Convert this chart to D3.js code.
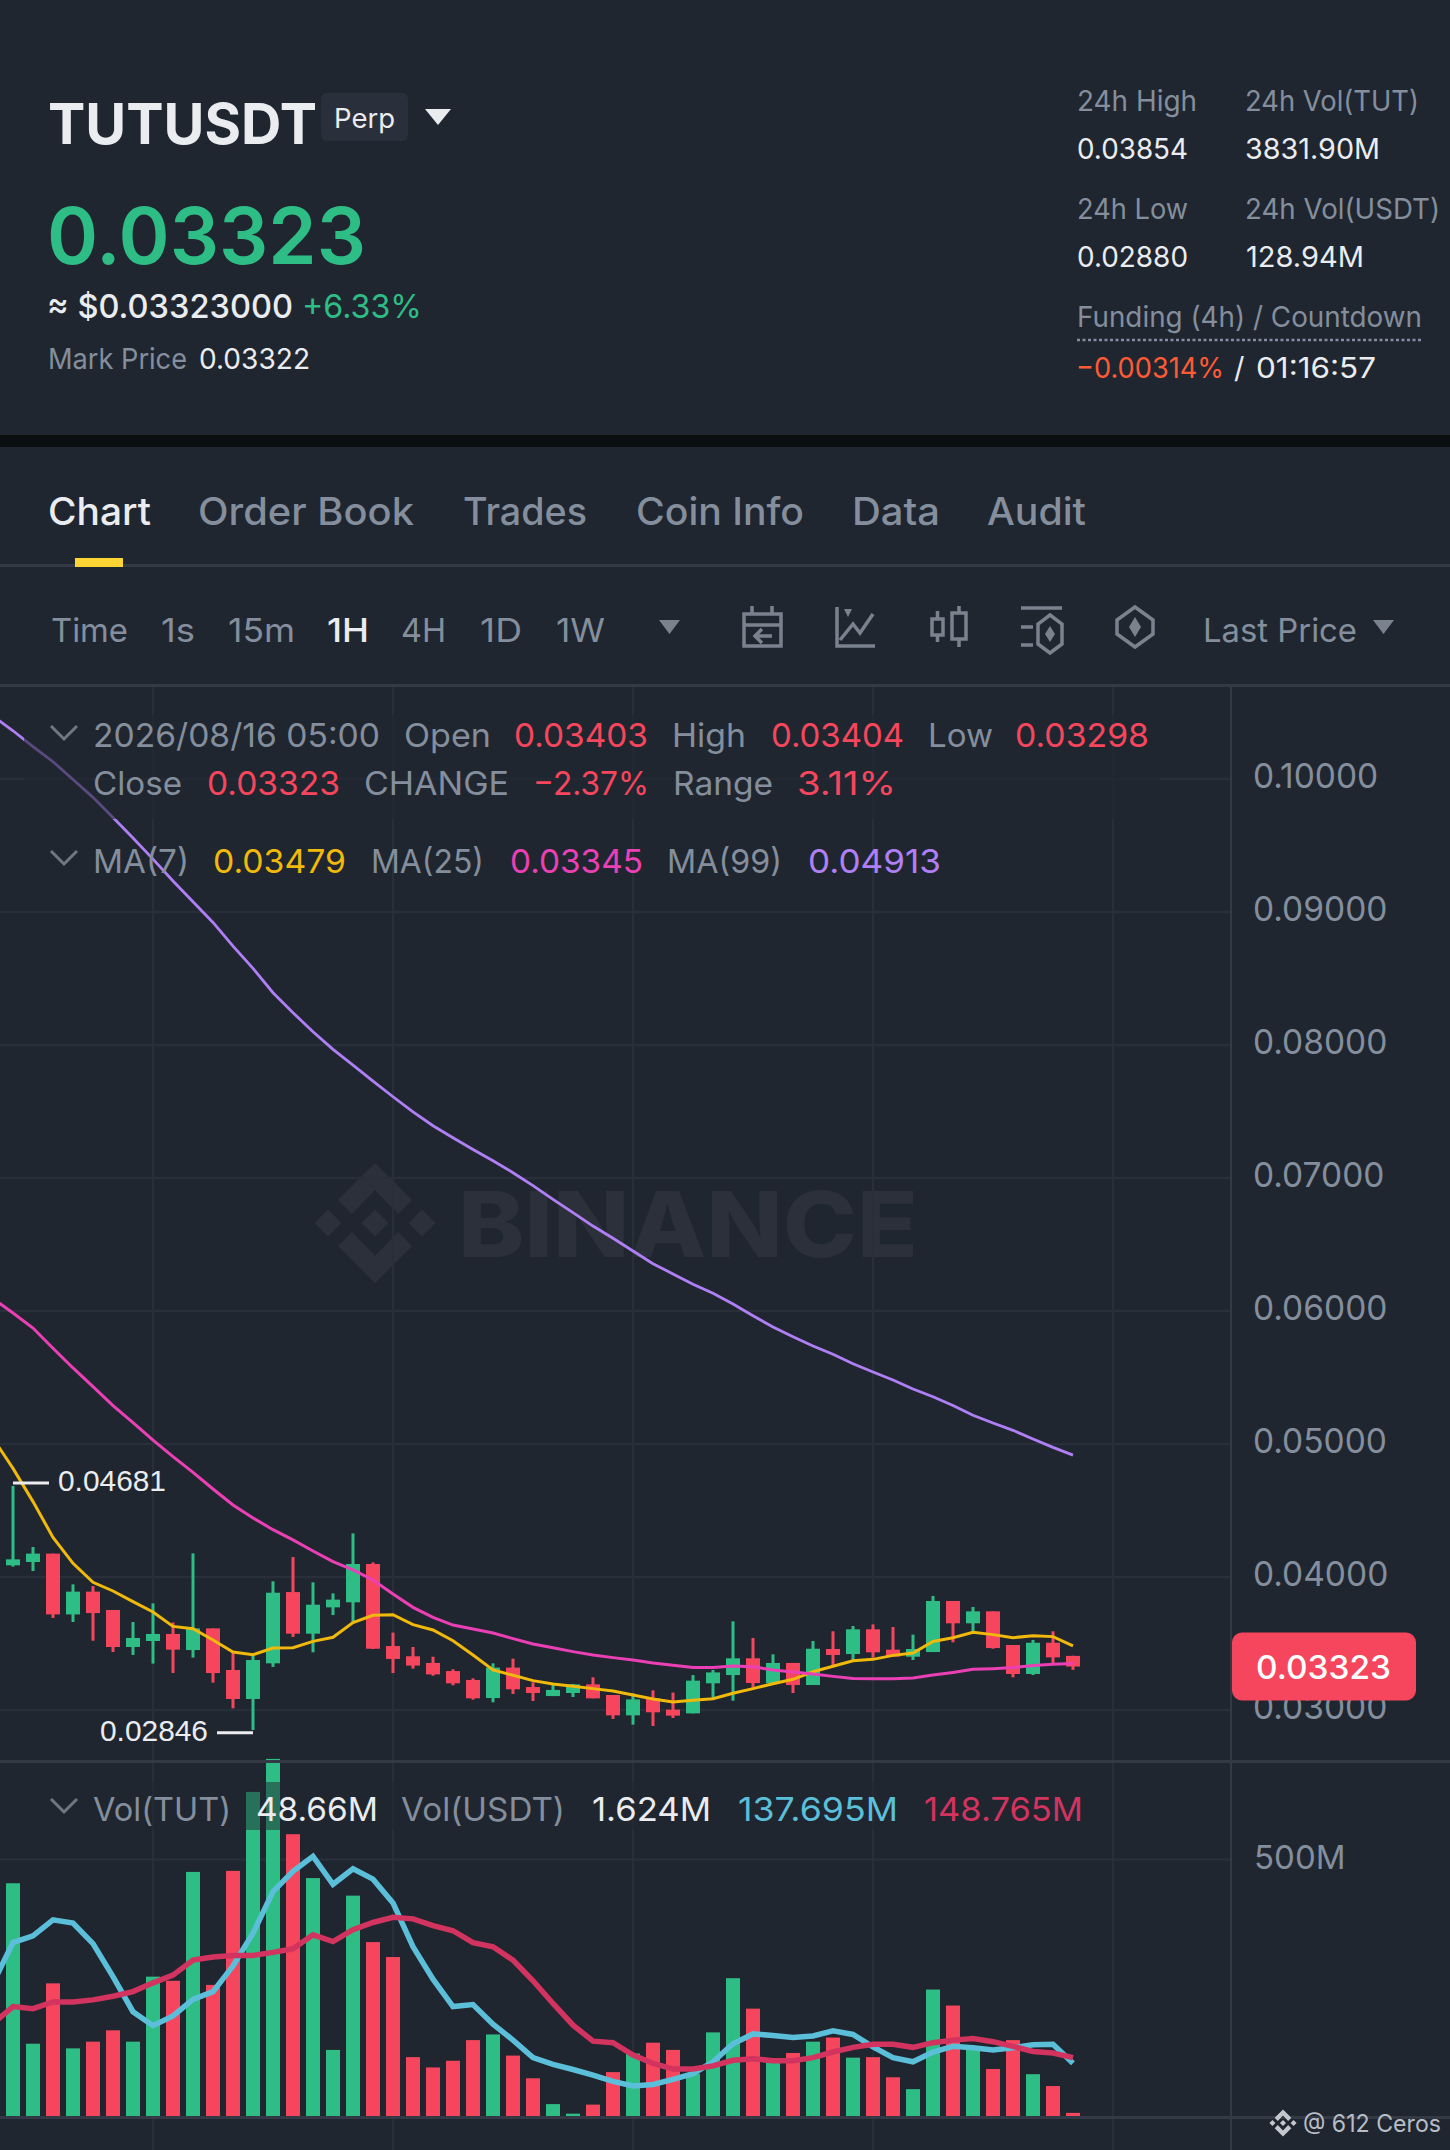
<!DOCTYPE html>
<html>
<head>
<meta charset="utf-8">
<script src="https://cdn.jsdelivr.net/npm/d3@7"></script>
<style>
  html, body { margin: 0; background: #1f2630; }
  svg { display: block; }
  text { font-family: Inter, "Noto Sans", sans-serif; }
</style>
</head>
<body>
<svg width="1450" height="2150"></svg>
<script>
// candles
const opens = [.04084,.04109,.04172,.03715,.03886,.03748,.0347,.03515,.03568,.03447,.0361,.03297,.03079,.03347,.03883,.0357,.03768,.03806,.04094,.03477,.034,.0335,.03289,.03222,.03086,.03315,.03169,.03101,.03124,.03189,.03109,.02956,.03084,.02999,.02971,.03197,.03259,.03385,.03197,.0335,.03184,.03455,.03417,.03603,.0345,.03397,.03432,.03816,.03648,.03738,.03485,.03267,.03502,.03403];
const highs = [.04681,.04222,.04172,.03941,.03928,.03748,.03658,.03798,.03655,.04174,.0361,.03435,.0341,.03964,.04146,.03956,.03873,.04324,.04106,.03578,.0347,.03397,.03302,.03234,.03347,.03382,.03204,.03184,.03192,.03242,.03109,.03122,.03144,.03127,.03259,.03297,.03663,.03538,.03415,.0335,.03515,.03588,.03628,.0364,.0362,.03563,.03854,.03816,.03771,.03738,.03485,.03523,.03588,.03404];
const lows = [.04074,.04041,.03688,.03658,.03517,.03432,.0341,.03345,.03274,.0339,.03202,.03009,.02846,.0332,.03545,.0343,.0371,.03648,.03455,.03274,.03307,.03254,.03182,.03074,.03054,.03117,.03064,.03101,.03094,.03084,.02929,.02886,.02876,.02936,.02971,.03084,.03066,.03164,.03197,.03124,.03184,.0333,.03372,.0339,.03397,.03372,.03432,.03505,.03585,.03457,.03242,.03259,.03347,.03298];
const closes = [.04129,.04172,.03715,.03886,.03725,.0347,.03538,.03568,.0345,.0361,.03274,.03079,.03372,.03878,.0357,.03788,.03826,.04094,.03457,.0338,.0333,.03264,.03197,.03084,.03315,.03152,.03124,.03147,.03189,.03084,.02956,.03076,.02979,.02954,.03217,.03279,.03385,.03199,.0335,.03184,.03457,.0341,.03603,.0343,.03397,.03455,.03816,.03648,.03738,.03462,.03267,.03502,.03392,.03323];
const volumes = [453,142,259,133,146,168,146,272,264,475,256,477,630,694,548,463,130,429,339,310,116,96,109,149,160,119,75,25,6.5,24,87,123,144,130,84,164,269,210,107,124,146,154,115,116,77,54,247,216,133,93,149,83,60,8];

// moving averages start one candle before the first full candle
const ma7 = [.05039,.04813,.04563,.04294,.04099,.03956,.03891,.03811,.03733,.03625,.03608,.03523,.03432,.03412,.03462,.03465,.03512,.03543,.03653,.03708,.03713,.03638,.03598,.03517,.0341,.03297,.03257,.03217,.03192,.03174,.03157,.03139,.03109,.03079,.03056,.03069,.03081,.03122,.03157,.03194,.03227,.03284,.03325,.03367,.03377,.03407,.03425,.03512,.0354,.0358,.03563,.0354,.03555,.03548,.03479];
const ma25 = [.06091,.05981,.05868,.05716,.05568,.05427,.05285,.05157,.05026,.04901,.04783,.04658,.04538,.0444,.04352,.04275,.04192,.04112,.04049,.03974,.03868,.03768,.03693,.03635,.03605,.03575,.03533,.03492,.03465,.03435,.0341,.0339,.03372,.0335,.03332,.03315,.03315,.03327,.03322,.03297,.03282,.03267,.03249,.03234,.03232,.03232,.03237,.03259,.03279,.03302,.03307,.03315,.0333,.0334,.03345];
const ma99 = [.10469,.10359,.10239,.10126,.09993,.09858,.09707,.09552,.09394,.09229,.09073,.08918,.0874,.08572,.08389,.08239,.08096,.07963,.07845,.07725,.07607,.07494,.07389,.07299,.07211,.07126,.07036,.06939,.06836,.06736,.06635,.06543,.06447,.06352,.06275,.06197,.06129,.06049,.05961,.05876,.05803,.05733,.05671,.056,.05538,.05478,.0541,.05352,.05285,.05212,.05154,.05099,.05034,.04971,.04913];
const volMaFast = [259,338,351,382,376,336,272,204,177,196,228,243,293,356,437,476,505,451,481,461,415,330,267,214,218,180,149,115,102,92,81,69,60,63,73,84,107,142,161,158,154,157,167,160,136,115,107,126,137,134,130,134,140,141,104];
const volMaSlow = [181,214,210,223,223,227,234,243,260,275,304,310,313,313,319,326,353,340,363,377,387,384,371,361,338,330,304,264,220,178,147,144,120,104,93,93,99,110,113,109,109,115,126,135,141,141,135,144,149,152,146,137,127,124,115];

const priceTicks = [.03,.04,.05,.06,.07,.08,.09,.10];
const volTicks = [500];
const gridCandles = [7,19,31,43,55];

const tabs = ["Chart","Order Book","Trades","Coin Info","Data","Audit"];
const tabX = [48,198,463,636,852,987];
const tabW = [103,216,124,168,88,99];
const times = ["Time","1s","15m","1H","4H","1D","1W"];
const timeX = [51,161,228,327,401,480,556];
const timeW = [77,34,67,42,45,42,49];

const BG = "#1f2630", GREEN = "#2ebd85", RED = "#f6465d", GRAY = "#848e9c", WHITE = "#eaecef";
const YELLOW = "#f0b90b", PINK = "#eb40b5", PURPLE = "#b17ff5", CYAN = "#5bbfd9", CRIMSON = "#d2335f";
const GRID = "#292f39", SEP = "#343a45", ICON = "#7a828e";
const CHART_RIGHT = 1230;

const svg = d3.select("svg");

// width is the length the text takes in the reference, so rows keep their spacing
function txt(x, y, s, size, fill, width, weight, family) {
  const t = svg.append("text").attr("x", x).attr("y", y).attr("font-size", size).attr("fill", fill).text(s);
  if (width) t.attr("textLength", width).attr("lengthAdjust", "spacingAndGlyphs");
  if (weight) t.attr("font-weight", weight);
  if (family) t.style("font-family", family);
  return t;
}

function chevron(y) {
  svg.append("path")
    .attr("d", `M51 ${y}L64 ${y + 13}L77 ${y}`)
    .attr("fill", "none").attr("stroke", "#6f7783").attr("stroke-width", 3);
}

function logo(cx, cy, k, fill) {
  const paths = [
    "M0-60L37-23L23-9L0-33L-23-9L-37-23Z",
    "M0 60L37 23L23 9L0 33L-23 9L-37 23Z",
    "M0-13.5L13.5 0L0 13.5L-13.5 0Z",
    "M-47-13.5L-33.5 0L-47 13.5L-60.5 0Z",
    "M47-13.5L60.5 0L47 13.5L33.5 0Z"
  ];
  svg.append("path").attr("d", paths.join(""))
    .attr("transform", `translate(${cx},${cy}) scale(${k})`).attr("fill", fill);
}

// scales
const x = d3.scaleLinear().domain([-1, 53]).range([-7, 1073]);
const y = d3.scaleLinear().domain([.03, .10]).range([1709.5, 778.5]);
const yVol = d3.scaleLinear().domain([0, 500]).range([2117, 1859]);
const up = i => closes[i] >= opens[i];

// header and page background
svg.append("rect").attr("width", 1450).attr("height", 2150).attr("fill", BG);
svg.append("rect").attr("y", 435).attr("width", 1450).attr("height", 12).attr("fill", "#0b0e11");

txt(48, 144, "TUTUSDT", 56, WHITE, 269, 700);
svg.append("rect").attr("x", 321).attr("y", 93).attr("width", 87).attr("height", 48).attr("rx", 6).attr("fill", "#2a303b");
txt(334, 128, "Perp", 27, WHITE, 61);
svg.append("path").attr("d", "M425 109H451L438 125Z").attr("fill", WHITE);
txt(47, 264, "0.03323", 79, GREEN, 319, 600);
txt(47, 318, "≈ $0.03323000", 33, WHITE, 246, 500);
txt(302, 318, "+6.33%", 33, GREEN, 120);
txt(48, 369, "Mark Price", 29, GRAY, 139);
txt(199, 369, "0.03322", 29, WHITE, 111);

[[1077, 111, "24h High", GRAY, 120], [1077, 159, "0.03854", WHITE, 111], [1245, 111, "24h Vol(TUT)", GRAY, 174], [1245, 159, "3831.90M", WHITE, 135],
 [1077, 219, "24h Low", GRAY, 111], [1077, 267, "0.02880", WHITE, 111], [1245, 219, "24h Vol(USDT)", GRAY, 195], [1246, 267, "128.94M", WHITE, 118],
 [1077, 327, "Funding (4h) / Countdown", GRAY, 345], [1076, 378, "−0.00314%", "#ff5a36", 148], [1234, 378, "/", WHITE], [1256, 378, "01:16:57", WHITE, 120]]
  .forEach(d => txt(d[0], d[1], d[2], 29, d[3], d[4]));
svg.append("line").attr("x1", 1077).attr("x2", 1422).attr("y1", 340).attr("y2", 340)
  .attr("stroke", GRAY).attr("stroke-width", 2.5).attr("stroke-dasharray", "3 2.5");

// tabs
tabs.forEach((s, i) => txt(tabX[i], 525, s, 38, i === 0 ? WHITE : GRAY, tabW[i], 500));
svg.append("rect").attr("y", 564).attr("width", 1450).attr("height", 3).attr("fill", SEP);
svg.append("rect").attr("x", 75).attr("y", 558).attr("width", 48).attr("height", 9).attr("fill", "#fcd535");

// interval row
times.forEach((s, i) => txt(timeX[i], 642, s, 33, s === "1H" ? WHITE : GRAY, timeW[i], s === "1H" ? 500 : 400));
txt(1203, 642, "Last Price", 33, GRAY, 154);
svg.append("path").attr("d", "M659 620H680L669.5 634ZM1373 620H1394L1383.5 634Z").attr("fill", ICON);
svg.append("rect").attr("y", 684).attr("width", 1450).attr("height", 3).attr("fill", SEP);

const icons = svg.append("g").attr("fill", "none").attr("stroke", ICON).attr("stroke-width", 3.5);
icons.append("path").attr("d", "M744 614H781V646H744ZM744 625H781M752 606V614M772 606V614M772 636H755M762 629L755 636L762 643");
icons.append("path").attr("d", "M837 607V646H875M840 640L853 624L860 633L873 614");
icons.append("path").attr("d", "M932 619H943V635H932ZM937.5 611V619M937.5 635V642M952 613H966V639H952ZM959 606V613M959 639V647");
icons.append("path").attr("d", "M1021 608H1062M1021 627H1033M1021 645H1033M1050 615L1062 624V644L1050 653L1038 644V624Z");
icons.append("path").attr("d", "M1135 607L1153 620V634L1135 647L1117 634V620Z");
svg.append("path").attr("d", "M844 609H852L848 617ZM1050 626L1055 634L1050 642L1045 634ZM1135 617L1141 627L1135 637L1129 627Z").attr("fill", ICON);

// watermark
logo(375, 1223, 1, "#2c303a");
txt(458, 1257, "BINANCE", 91, "#2c303a", 460, 800);

// grid, drawn with the axes' own tick lines
svg.append("g").attr("transform", `translate(${CHART_RIGHT},0)`)
  .call(d3.axisLeft(y).tickValues(priceTicks).tickSize(CHART_RIGHT).tickFormat(""))
  .call(g => g.select(".domain").remove())
  .selectAll("line").attr("stroke", GRID).attr("stroke-width", 2.5);
svg.append("g").attr("transform", `translate(${CHART_RIGHT},0)`)
  .call(d3.axisLeft(yVol).tickValues(volTicks).tickSize(CHART_RIGHT).tickFormat(""))
  .call(g => g.select(".domain").remove())
  .selectAll("line").attr("stroke", GRID).attr("stroke-width", 2.5);
svg.selectAll(".vgrid").data(gridCandles).enter().append("line")
  .attr("x1", d => x(d)).attr("x2", d => x(d)).attr("y1", 687).attr("y2", 2150)
  .attr("stroke", GRID).attr("stroke-width", 2);

// volume bars and their averages
svg.selectAll(".vol").data(volumes).enter().append("rect")
  .attr("x", (d, i) => x(i) - 7).attr("width", 14)
  .attr("y", d => yVol(d)).attr("height", d => yVol(0) - yVol(d))
  .attr("fill", (d, i) => up(i) ? GREEN : RED);

const lineOf = scale => d3.line().x((d, i) => x(i - 1)).y(d => scale(d));
[[volMaFast, CYAN], [volMaSlow, CRIMSON]].forEach(s => {
  svg.append("path").attr("d", lineOf(yVol)(s[0])).attr("fill", "none")
    .attr("stroke", s[1]).attr("stroke-width", 5.5);
});

// candles
svg.selectAll(".wick").data(opens).enter().append("line")
  .attr("x1", (d, i) => x(i)).attr("x2", (d, i) => x(i))
  .attr("y1", (d, i) => y(highs[i])).attr("y2", (d, i) => y(lows[i]))
  .attr("stroke", (d, i) => up(i) ? GREEN : RED).attr("stroke-width", 3);
svg.selectAll(".body").data(opens).enter().append("rect")
  .attr("x", (d, i) => x(i) - 7).attr("width", 14)
  .attr("y", (d, i) => y(Math.max(d, closes[i])))
  .attr("height", (d, i) => Math.abs(y(d) - y(closes[i])))
  .attr("fill", (d, i) => up(i) ? GREEN : RED);

[[ma7, YELLOW, 3], [ma25, PINK, 3], [ma99, PURPLE, 2.8]].forEach(s => {
  svg.append("path").attr("d", lineOf(y)(s[0])).attr("fill", "none")
    .attr("stroke", s[1]).attr("stroke-width", s[2]);
});

// high and low markers
const HIGH = d3.max(highs), LOW = d3.min(lows);
svg.append("line").attr("x1", x(0)).attr("x2", x(0) + 36).attr("y1", y(HIGH) - 3).attr("y2", y(HIGH) - 3).attr("stroke", WHITE).attr("stroke-width", 3);
txt(x(0) + 45, y(HIGH) + 5, d3.format(".5f")(HIGH), 30, WHITE, 108, null, '"Liberation Sans"');
svg.append("line").attr("x1", x(12) - 36).attr("x2", x(12)).attr("y1", y(LOW) + 2.7).attr("y2", y(LOW) + 2.7).attr("stroke", WHITE).attr("stroke-width", 3);
txt(x(12) - 153, y(LOW) + 11, d3.format(".5f")(LOW), 30, WHITE, 108, null, '"Liberation Sans"');

// legend backings dim what is below the text
svg.append("rect").attr("x", 24).attr("y", 714).attr("width", 1136).attr("height", 105).attr("fill", BG).attr("opacity", .6);
svg.append("rect").attr("x", 24).attr("y", 1782).attr("width", 1070).attr("height", 48).attr("fill", BG).attr("opacity", .5);

// panel rules
svg.append("rect").attr("y", 1760).attr("width", 1450).attr("height", 3).attr("fill", SEP);
svg.append("rect").attr("y", 2116).attr("width", 1450).attr("height", 3).attr("fill", SEP);
svg.append("rect").attr("x", CHART_RIGHT).attr("y", 687).attr("width", 2).attr("height", 1463).attr("fill", SEP);

// legends
chevron(726); chevron(851); chevron(1799);
[[93, 747, "2026/08/16 05:00", GRAY, 287], [404, 747, "Open", GRAY, 87], [514, 747, "0.03403", RED, 134], [672, 747, "High", GRAY, 74], [771, 747, "0.03404", RED, 133], [928, 747, "Low", GRAY, 65], [1015, 747, "0.03298", RED, 134],
 [93, 795, "Close", GRAY, 89], [207, 795, "0.03323", RED, 133], [364, 795, "CHANGE", GRAY, 145], [533, 795, "−2.37%", RED, 116], [673, 795, "Range", GRAY, 100], [797, 795, "3.11%", RED, 99],
 [93, 873, "MA(7)", GRAY, 96], [213, 873, "0.03479", YELLOW, 133], [371, 873, "MA(25)", GRAY, 113], [510, 873, "0.03345", PINK, 133], [667, 873, "MA(99)", GRAY, 115], [808, 873, "0.04913", PURPLE, 133],
 [93, 1821, "Vol(TUT)", GRAY, 138], [256, 1821, "48.66M", WHITE, 122], [401, 1821, "Vol(USDT)", GRAY, 164], [592, 1821, "1.624M", WHITE, 119], [738, 1821, "137.695M", CYAN, 160], [924, 1821, "148.765M", CRIMSON, 159]]
  .forEach(d => txt(d[0], d[1], d[2], 33, d[3], d[4]));

// right axes
svg.append("g").attr("transform", `translate(${CHART_RIGHT},0)`)
  .call(d3.axisRight(y).tickValues(priceTicks).tickSize(0).tickPadding(23).tickFormat(d3.format(".5f")))
  .call(g => g.select(".domain").remove())
  .selectAll("text").attr("fill", GRAY).attr("font-size", 33.5).attr("dy", ".26em").style("font-family", "Inter");
svg.append("g").attr("transform", `translate(${CHART_RIGHT},0)`)
  .call(d3.axisRight(yVol).tickValues(volTicks).tickSize(0).tickPadding(24).tickFormat(d => d + "M"))
  .call(g => g.select(".domain").remove())
  .selectAll("text").attr("fill", GRAY).attr("font-size", 33).attr("dy", ".28em").style("font-family", "Inter");

// current price tag
const LAST = closes[closes.length - 1];
svg.append("rect").attr("x", 1232).attr("y", y(LAST) - 34).attr("width", 184).attr("height", 68).attr("rx", 10).attr("fill", RED);
txt(1256, y(LAST) + 12, d3.format(".5f")(LAST), 33, "#fff", 135, 500);

// footer mark
logo(1283, 2123, .225, "#c4c8ce");
txt(1303, 2132, "@ 612 Ceros", 24, "#b7bdc6", 138);
</script>
</body>
</html>
